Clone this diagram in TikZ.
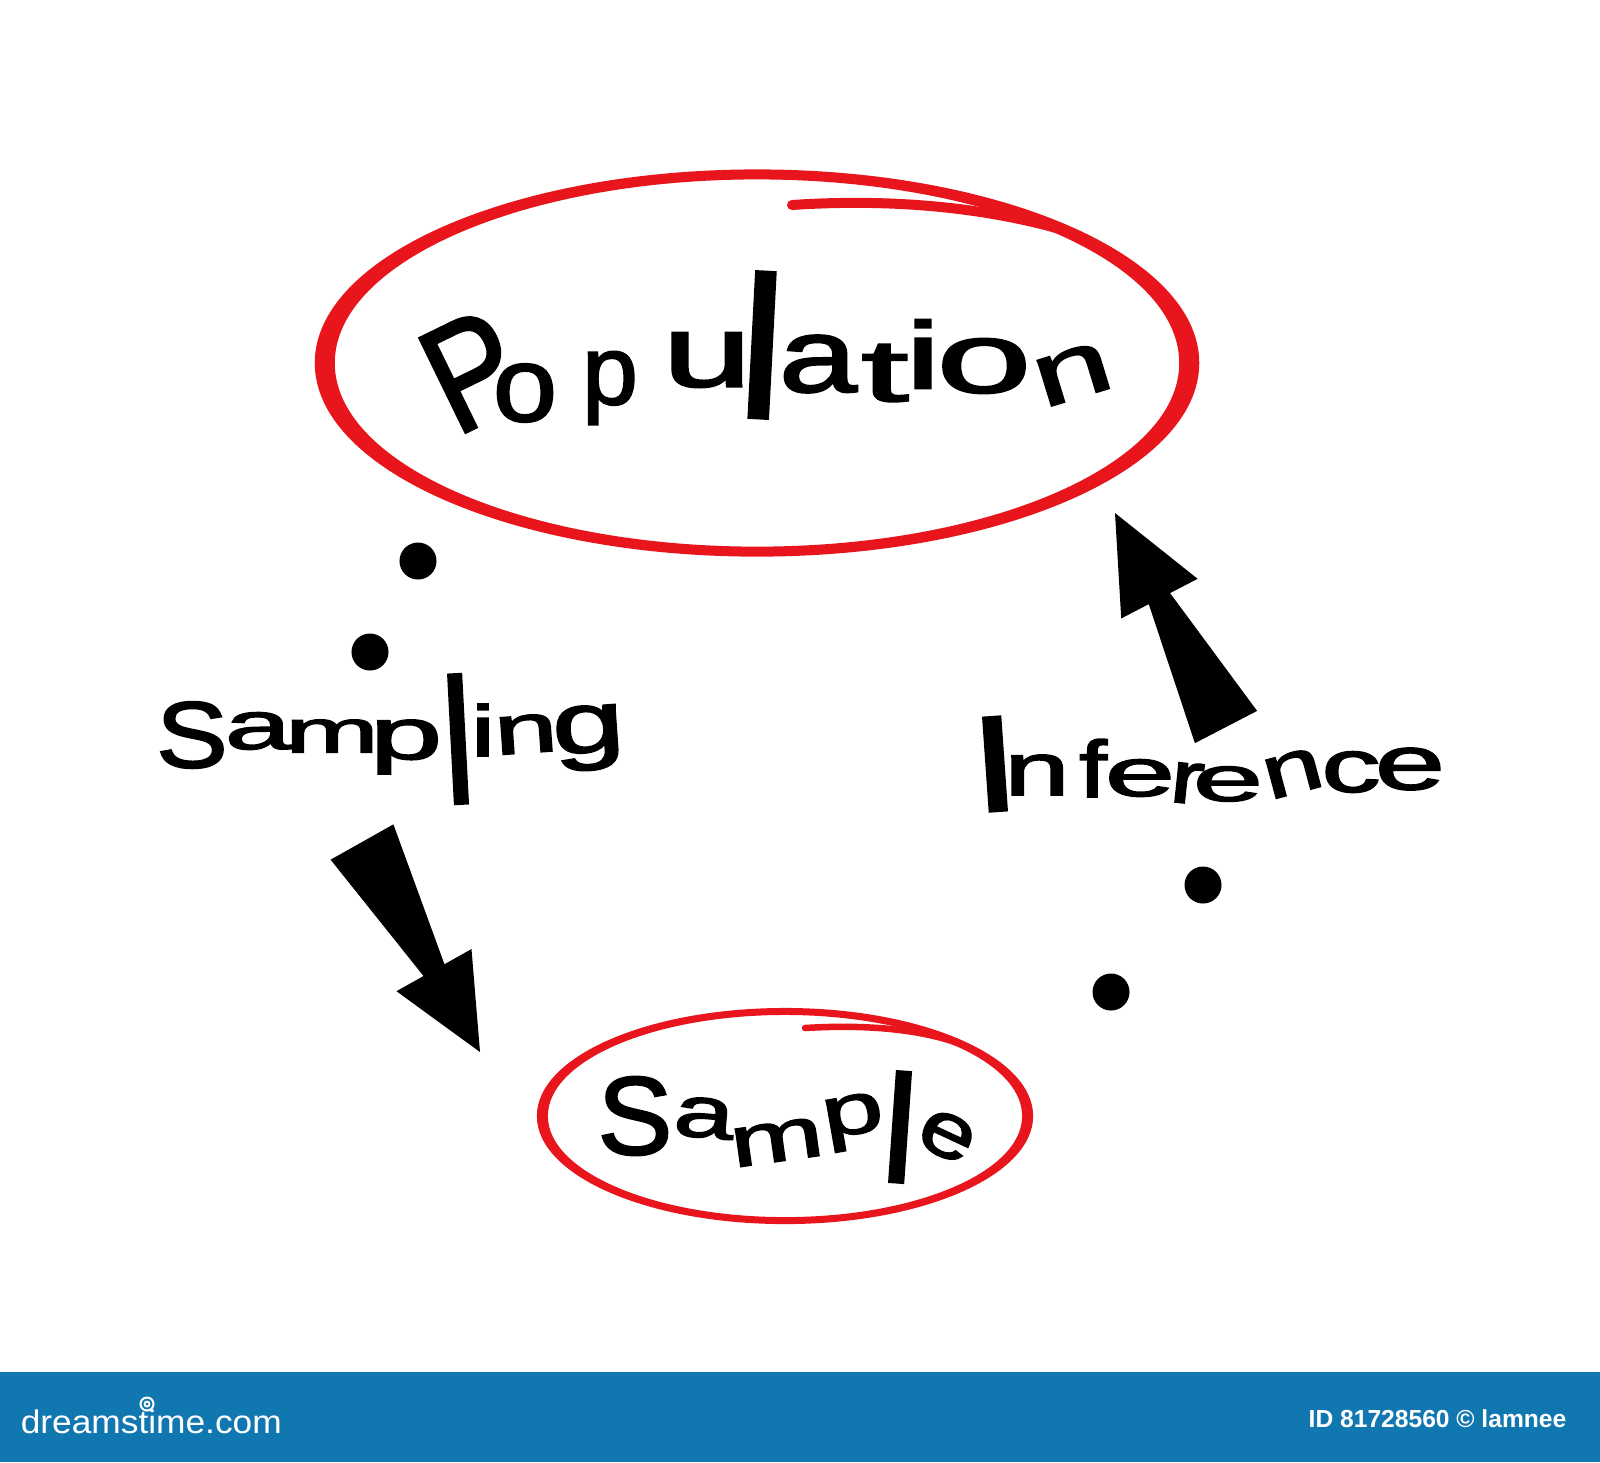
\documentclass[tikz,border=0pt]{standalone}
\usepackage{fontspec}
\setmainfont{Liberation Sans}
\newfontfamily\heavyfont[FakeBold=2]{Liberation Sans}
\usetikzlibrary{calc,shapes.geometric}
\definecolor{penred}{RGB}{232,22,28}
\definecolor{barblue}{RGB}{17,119,176}
\begin{document}
\begin{tikzpicture}[x=0.01cm,y=-0.01cm,
  lt/.style={inner sep=0pt, outer sep=0pt, font=\heavyfont\fontsize{28.45}{30}\selectfont, text=black},
  dotn/.style={circle, fill=black, inner sep=0pt, minimum size=0.37cm},
  ring/.style={penred, even odd rule},
  flick/.style={draw=penred, line cap=round},
  blockarrow/.style={fill=black}]
\useasboundingbox (0,0) rectangle (1600,1462);
\fill[white] (0,0) rectangle (1600,1462);

% ---- Population ellipse
\node[ellipse, minimum width=8.64cm, minimum height=3.74cm, inner sep=0pt] (popE) at (757,363) {};
\fill[ring] (popE.center) ellipse [x radius=4.42cm, y radius=1.935cm]
            (popE.center) ellipse [x radius=4.22cm, y radius=1.835cm];
\draw[flick, line width=0.1cm] (792,205) .. controls (880,199) and (975,205) .. (1060,229);

% ---- Sample ellipse
\node[ellipse, minimum width=4.85cm, minimum height=2.09cm, inner sep=0pt] (samE) at (785,1116) {};
\fill[ring] (samE.center) ellipse [x radius=2.48cm, y radius=1.08cm]
            (samE.center) ellipse [x radius=2.37cm, y radius=1.01cm];
\draw[flick, line width=0.065cm] (805,1028) .. controls (870,1024) and (925,1030) .. (963,1045);

% ---- Population letters
\node[lt, rotate=26, xscale=1.3, yscale=1.52] (p1) at (472,371) {P};
\node[lt, xscale=1.15, yscale=1.06] (p2) at (525,393) {o};
\node[lt, xscale=1.0, yscale=0.98] (p3) at (610,388) {p};
\node[lt, xscale=1.6, yscale=1.02] (p4) at (707,360) {u};
\node[lt, rotate=-3, xscale=2.0, yscale=2.0] (p5) at (762,345) {l};
\node[lt, xscale=1.4, yscale=1.05] (p6) at (818,364) {a};
\node[lt, xscale=1.7, yscale=0.88] (p7) at (885,373) {t};
\node[lt, xscale=1.6, yscale=0.95] (p8) at (923,354) {i};
\node[lt, xscale=1.7, yscale=1.0] (p9) at (984,366) {o};
\node[lt, rotate=17, xscale=1.4, yscale=0.9] (p10) at (1073,374) {n};

% ---- Sampling letters
\node[lt, xscale=1.07, yscale=0.94] (s1) at (192,735) {S};
\node[lt, xscale=1.19, yscale=0.68] (s2) at (258,731) {a};
\node[lt, xscale=1.12, yscale=0.61] (s3) at (332,736) {m};
\node[lt, xscale=1.3, yscale=0.73] (s4) at (406,747) {p};
\node[lt, rotate=3, xscale=1.4, yscale=1.77] (s5) at (458,739) {l};
\node[lt, xscale=1.1, yscale=0.72] (s6) at (483,730) {i};
\node[lt, rotate=4, xscale=1.14, yscale=0.7] (s7) at (526,734) {n};
\node[lt, rotate=4, xscale=1.3, yscale=0.87] (s8) at (589,738) {g};

% ---- Inference letters
\node[lt, rotate=4, xscale=1.7, yscale=1.36] (i1) at (995,764) {I};
\node[lt, xscale=1.17, yscale=0.75] (i2) at (1037,775) {n};
\node[lt, xscale=1.0, yscale=0.8] (i3) at (1093,768) {f};
\node[lt, xscale=1.26, yscale=0.68] (i4) at (1140,778) {e};
\node[lt, rotate=-6, xscale=1.0, yscale=0.75] (i5) at (1187,783) {r};
\node[lt, xscale=1.26, yscale=0.64] (i6) at (1228,784) {e};
\node[lt, rotate=15, xscale=1.07, yscale=0.75] (i7) at (1293,773) {n};
\node[lt, xscale=1.18, yscale=0.75] (i8) at (1351,772) {c};
\node[lt, xscale=1.26, yscale=0.77] (i9) at (1410,769) {e};

% ---- Sample letters
\node[lt, xscale=1.12, yscale=1.11] (m1) at (635,1116) {S};
\node[lt, rotate=-5, xscale=1.08, yscale=0.73] (m2) at (704,1118) {a};
\node[lt, rotate=8, xscale=1.12, yscale=0.72] (m3) at (777,1142) {m};
\node[lt, rotate=10, xscale=1.1, yscale=0.72] (m4) at (854,1122) {p};
\node[lt, rotate=-4, xscale=1.5, yscale=1.52] (m5) at (900,1127) {l};
\node[lt, rotate=-25, xscale=1.0, yscale=0.78] (m6) at (947,1136) {e};

% ---- dots
\node[dotn] (d1) at (418,561) {};
\node[dotn] (d2) at (370,652) {};
\node[dotn] (d3) at (1203,885) {};
\node[dotn] (d4) at (1111,992) {};

% ---- Sampling arrow (down to Sample)
\coordinate (sT) at (362,842);
\coordinate (sH) at (480,1052);
\coordinate (sN) at ($(sT)!0.61!(sH)$);
\fill[blockarrow] ($(sT)!0.36cm!90:(sH)$) -- ($(sN)!0.12cm!90:(sH)$) -- ($(sN)!0.43cm!90:(sH)$)
  -- (sH) -- ($(sN)!0.43cm!-90:(sH)$) -- ($(sN)!0.12cm!-90:(sH)$) -- ($(sT)!0.36cm!-90:(sH)$) -- cycle;

% ---- Inference arrow (up to Population)
\coordinate (iT) at (1226,727);
\coordinate (iH) at (1115,513);
\coordinate (iN) at ($(iT)!0.6!(iH)$);
\fill[blockarrow] ($(iT)!0.35cm!90:(iH)$) -- ($(iN)!0.12cm!90:(iH)$) -- ($(iN)!0.43cm!90:(iH)$)
  -- (iH) -- ($(iN)!0.43cm!-90:(iH)$) -- ($(iN)!0.12cm!-90:(iH)$) -- ($(iT)!0.35cm!-90:(iH)$) -- cycle;

% ---- bottom bar
\fill[barblue] (0,1372) rectangle (1600,1462);
\node[anchor=base west, text=white, inner sep=0pt, font=\fontsize{9.3}{11}\selectfont, xscale=1.08] (logo) at (20,1433) {dreamstime.com};
\draw[white, line width=0.02cm] (147,1404) circle (0.065cm);
\draw[white, line width=0.018cm] (147,1404) circle (0.025cm);
\node[anchor=base west, text=white, inner sep=0pt, font=\bfseries\fontsize{7}{9}\selectfont] (idt) at (1308,1427) {ID 81728560 © lamnee};
\end{tikzpicture}
\end{document}
